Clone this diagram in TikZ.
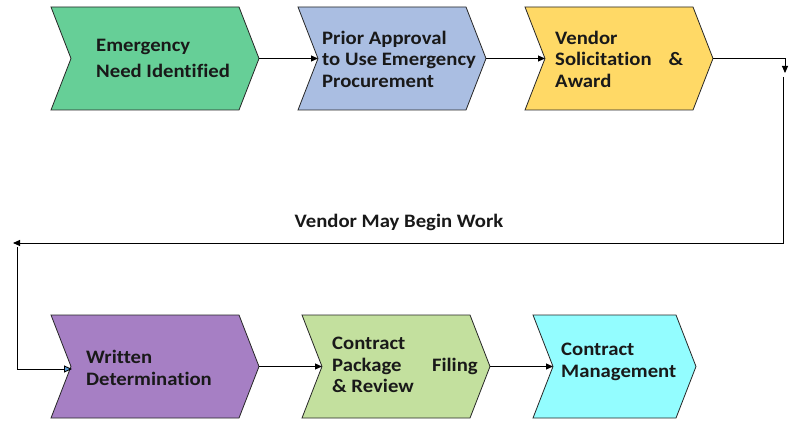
\documentclass[tikz,border=0pt]{standalone}
\usepackage{fontspec}
\setmainfont{Carlito}[BoldFont=Carlito Bold, Ligatures=CommonOff, FakeStretch=1.09]
\usetikzlibrary{arrows.meta}
\definecolor{cA}{HTML}{66CF97}
\definecolor{cB}{HTML}{AABEE2}
\definecolor{cC}{HTML}{FFD966}
\definecolor{cD}{HTML}{A67FC4}
\definecolor{cE}{HTML}{C3E09E}
\definecolor{cF}{HTML}{93FDFF}
\definecolor{tipblue}{HTML}{5B9BD5}
\newcommand{\mychev}[6]{%
  \filldraw[#6, draw=black!85, line width=0.8pt] (#2,#3) -- ++(#4-20,0) -- ++(20,-#5/2) -- ++(-20,-#5/2) -- ++(-#4+20,0) -- ++(20,#5/2) -- cycle;
  \coordinate (#1-tip) at (#2+#4,#3-#5/2);
  \coordinate (#1-notch) at (#2+20,#3-#5/2);
}
\tikzset{
  lbl/.style={font=\fontsize{19}{21.5}\selectfont\bfseries, text=black!90, align=left, inner sep=0pt, anchor=west},
  conn/.style={line width=0.9pt, -{Triangle[length=7pt,width=6pt]}},
  plain/.style={line width=0.9pt}
}
\begin{document}
\begin{tikzpicture}[x=1pt,y=1pt]
\useasboundingbox (0,0) rectangle (800,-430);
% top row
\mychev{c1}{51}{-7}{208}{103}{cA}
\mychev{c2}{298}{-7}{188}{103}{cB}
\mychev{c3}{525}{-7}{188}{103}{cC}
% bottom row
\mychev{c4}{51}{-315}{208}{103}{cD}
\mychev{c5}{302}{-315}{188}{103}{cE}
\mychev{c6}{533}{-315}{163}{103}{cF}
% labels
\node[lbl, font=\fontsize{19}{26}\selectfont\bfseries] (t1) at (96,-58) {Emergency\\Need Identified};
\node[lbl] (t2) at (322,-59) {Prior Approval\\to Use Emergency\\Procurement};
\node[lbl] (t3) at (555,-59) {Vendor\\Solicitation\hspace{0.9em}\&\\Award};
\node[lbl] (t4) at (86,-368) {Written\\Determination};
\node[lbl] (t5) at (332,-365) {Contract\\Package\hspace{1.6em}Filing\\\& Review};
\node[lbl] (t6) at (561,-362) {Contract\\Management};
\node[lbl, anchor=center] (t7) at (399,-222) {Vendor May Begin Work};
% connectors
\draw[conn] (c1-tip) -- (c2-notch);
\draw[conn] (c2-tip) -- (c3-notch);
\draw[conn] (c4-tip) -- (c5-notch);
\draw[conn] (c5-tip) -- (c6-notch);
\coordinate (r1) at (785,-58.5);
\coordinate (r2) at (785,-73);
\coordinate (s1) at (783,-77);
\coordinate (s2) at (783,-243);
\coordinate (s3) at (13,-243);
\coordinate (u1) at (17,-247);
\coordinate (u2) at (17,-369);
\coordinate (u3) at (72,-369);
\draw[plain, -{Triangle[length=8pt,width=7pt,fill=tipblue]}] (u1) -- (u2) -- (u3);
\draw[conn] (c3-tip) -- (r1) -- (r2);
\draw[conn] (s1) -- (s2) -- (s3);
\end{tikzpicture}
\end{document}
